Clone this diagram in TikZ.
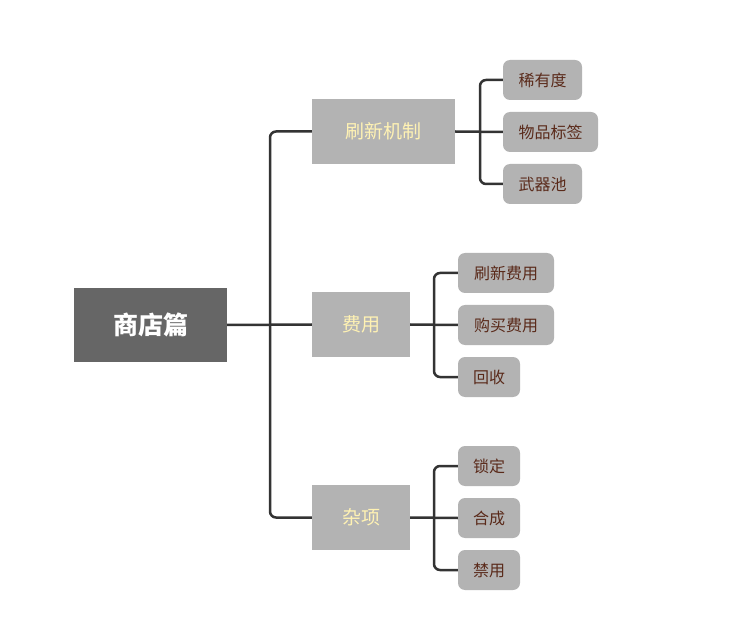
\documentclass[tikz,border=0pt]{standalone}
\usepackage{fontspec}
\setmainfont{Noto Sans CJK SC}
\begin{document}
\begin{tikzpicture}[x=1pt,y=-1pt,
  root/.style={fill=rootc,text=white,font=\bfseries\fontsize{25}{30}\selectfont,inner sep=0},
  lvl/.style={fill=boxc,text=lvlt,font=\fontsize{19}{23}\selectfont,inner sep=0},
  leaf/.style={fill=boxc,text=leaft,rounded corners=7pt,font=\fontsize{16}{19}\selectfont,inner sep=0},
  ln/.style={draw=linec,line width=2.5pt,rounded corners=6pt}]
\definecolor{rootc}{HTML}{666666}
\definecolor{boxc}{HTML}{B3B3B3}
\definecolor{lvlt}{HTML}{FFF2B3}
\definecolor{leaft}{HTML}{5A2A1A}
\definecolor{linec}{HTML}{333333}
\useasboundingbox (0,0) rectangle (755,644);
\node[root,minimum width=153,minimum height=74] (r) at (150.5,325) {商店篇};
\node[lvl,minimum width=143,minimum height=65] (a) at (383.5,131.5) {刷新机制};
\node[lvl,minimum width=98,minimum height=65] (b) at (361,324.5) {费用};
\node[lvl,minimum width=98,minimum height=65] (c) at (361,517.5) {杂项};
\node[leaf,minimum width=79,minimum height=40] (a1) at (542.5,80) {稀有度};
\node[leaf,minimum width=95,minimum height=40] (a2) at (550.5,132) {物品标签};
\node[leaf,minimum width=79,minimum height=40] (a3) at (542.5,184) {武器池};
\node[leaf,minimum width=96,minimum height=40] (b1) at (506,273) {刷新费用};
\node[leaf,minimum width=96,minimum height=40] (b2) at (506,325) {购买费用};
\node[leaf,minimum width=62,minimum height=40] (b3) at (489,377) {回收};
\node[leaf,minimum width=62,minimum height=40] (c1) at (489,466) {锁定};
\node[leaf,minimum width=62,minimum height=40] (c2) at (489,518) {合成};
\node[leaf,minimum width=62,minimum height=40] (c3) at (489,570) {禁用};
\coordinate (t) at (270,325);
\draw[ln] (r.east) -- (b.west);
\draw[ln] (a.west) -| (t) |- (c.west);
\draw[ln] (a.east) -- (a2.west);
\draw[ln] (a1.west) -| (480,132) |- (a3.west);
\draw[ln] (b.east) -- (b2.west);
\draw[ln] (b1.west) -| (434,325) |- (b3.west);
\draw[ln] (c.east) -- (c2.west);
\draw[ln] (c1.west) -| (434,518) |- (c3.west);
\end{tikzpicture}
\end{document}
